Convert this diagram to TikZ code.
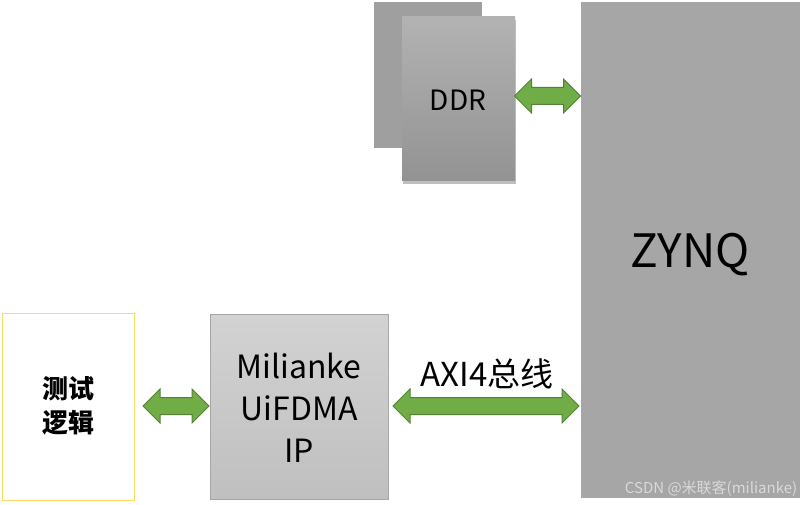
\documentclass[tikz,border=0pt]{standalone}
\usepackage{fontspec}
\setmainfont{Noto Sans CJK SC}
\usetikzlibrary{shapes.arrows,shadows}
\definecolor{agreen}{RGB}{112,173,71}
\definecolor{dgreen}{RGB}{84,130,53}
\definecolor{ybord}{RGB}{255,217,102}
\begin{document}
\begin{tikzpicture}[x=1pt,y=-1pt,
 dbl/.style={double arrow,fill=agreen,draw=dgreen,line width=1pt,double arrow head extend=8.5pt,minimum height=#1,inner xsep=0pt,inner ysep=8pt,anchor=center,font=\fontsize{1}{1}\selectfont},
 lbl/.style={align=center,text=black}]
\useasboundingbox (0,0) rectangle (803,505);
\fill[gray!75] (374,2) rectangle (482,148);
\shade[top color=gray!60,bottom color=gray!85,drop shadow={opacity=0.5,shadow xshift=1pt,shadow yshift=-3pt}] (402,17) rectangle (515,181);
\node[lbl,font=\fontsize{28}{32}\selectfont] (ddr) at (458,100) {DDR};
\fill[gray!70] (581,2) rectangle (800,498);
\node[lbl,font=\fontsize{46}{50}\selectfont] (zynq) at (690,255) {ZYNQ};
\draw[ybord,line width=0.8pt] (2,313) rectangle (134,500);
\node[lbl,font=\fontsize{26}{34}\selectfont\bfseries] (test) at (68,406) {测试\\逻辑};
\shade[top color=gray!35,bottom color=gray!50,draw=gray!70,line width=1pt] (210,314) rectangle (388,499);
\node[lbl,font=\fontsize{32}{42}\selectfont] (ip) at (299,408) {Milianke\\UiFDMA\\IP};
\node[dbl=66pt] (a1) at (547.5,96) {};
\node[dbl=66pt] (a2) at (176,406) {};
\node[dbl=186pt] (a3) at (486,406) {};
\node[lbl,font=\fontsize{33}{38}\selectfont] (axi) at (487,374) {AXI4总线};
\node[lbl,text=white!85!black,font=\fontsize{15}{17}\selectfont,inner sep=1pt] (wm) at (711,489) {CSDN @米联客(milianke)};
\end{tikzpicture}
\end{document}
